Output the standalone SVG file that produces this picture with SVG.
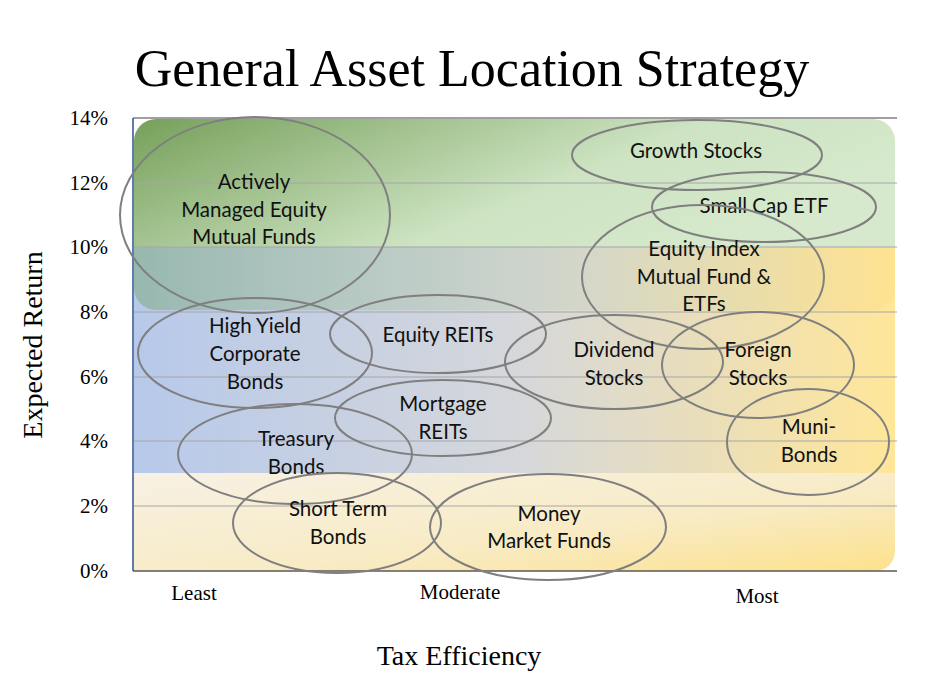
<svg xmlns="http://www.w3.org/2000/svg" width="939" height="692" viewBox="0 0 939 692">
<style>
.t{font-family:"Liberation Serif",serif;fill:#000}
.l{font-family:Lato,"Liberation Sans",sans-serif;font-size:20.5px;fill:#111;text-anchor:middle}
.e{fill:none;stroke:#7f7f7f;stroke-width:2}
.g{stroke:#a6a6a6;stroke-width:1}
</style>
<defs>
<linearGradient id="gb" x1="0" y1="0" x2="1" y2="0"><stop offset="0" stop-color="#b7c9ea"/><stop offset="0.5" stop-color="#d5d7db"/><stop offset="1" stop-color="#ffe699"/></linearGradient>
<linearGradient id="gy" x1="0" y1="0" x2="1" y2="1"><stop offset="0" stop-color="#f7f1e4"/><stop offset="0.6" stop-color="#f8ebc4"/><stop offset="1" stop-color="#fde18b"/></linearGradient>
<linearGradient id="gg" x1="0" y1="0" x2="1" y2="0.4"><stop offset="0" stop-color="#76a05a"/><stop offset="0.65" stop-color="#cde3c2"/><stop offset="1" stop-color="#d6e9cc"/></linearGradient>
<linearGradient id="gg2" x1="0" y1="0" x2="1" y2="0"><stop offset="0" stop-color="#8fb4a0" stop-opacity="0.8"/><stop offset="0.6" stop-color="#c9d3bf" stop-opacity="0.4"/><stop offset="1" stop-color="#ffe08a" stop-opacity="0.6"/></linearGradient>
</defs>
<rect width="939" height="692" fill="#fff"/>
<g id="bands">
<rect x="134" y="247" width="761" height="226" fill="url(#gb)"/>
<path d="M134 473H895V551A20 20 0 0 1 875 571H134Z" fill="url(#gy)"/>
<path d="M134 247H895V288A22 22 0 0 1 873 310H156A22 22 0 0 1 134 288Z" fill="url(#gg2)"/>
<path d="M156 119H873A22 22 0 0 1 895 141V247H134V141A22 22 0 0 1 156 119Z" fill="url(#gg)"/>
</g>
<g id="grid">
<line class="g" x1="134" y1="183" x2="897" y2="183"/>
<line class="g" x1="134" y1="247" x2="897" y2="247"/>
<line class="g" x1="134" y1="312" x2="897" y2="312"/>
<line class="g" x1="134" y1="377" x2="897" y2="377"/>
<line class="g" x1="134" y1="441" x2="897" y2="441"/>
<line class="g" x1="134" y1="506" x2="897" y2="506"/>
<line x1="133" y1="118" x2="897" y2="118" stroke="#7f7f7f" stroke-width="1.5"/>
<line x1="133" y1="571" x2="897" y2="571" stroke="#595959" stroke-width="1.5"/>
<line x1="133" y1="118" x2="133" y2="571" stroke="#2f4f8f" stroke-width="1.5"/>
</g>
<text class="t" x="472" y="86" font-size="52" text-anchor="middle">General Asset Location Strategy</text>
<g class="t" font-size="21" text-anchor="end">
<text x="108" y="125">14%</text><text x="108" y="190">12%</text><text x="108" y="254">10%</text><text x="108" y="319">8%</text><text x="108" y="384">6%</text><text x="108" y="448">4%</text><text x="108" y="513">2%</text><text x="108" y="578">0%</text>
</g>
<text class="t" font-size="21" x="194" y="600" text-anchor="middle">Least</text>
<text class="t" font-size="21" x="460" y="599" text-anchor="middle">Moderate</text>
<text class="t" font-size="21" x="757" y="603" text-anchor="middle">Most</text>
<text class="t" font-size="28" x="459" y="665" text-anchor="middle">Tax Efficiency</text>
<text class="t" font-size="28" transform="translate(42 345) rotate(-90)" text-anchor="middle">Expected Return</text>
<g id="nodes">
<g id="n-active"><ellipse class="e" cx="255" cy="215" rx="135" ry="98"/><text class="l" x="254" y="189">Actively</text><text class="l" x="254" y="217">Managed Equity</text><text class="l" x="254" y="244">Mutual Funds</text></g>
<g id="n-growth"><ellipse class="e" cx="697" cy="155" rx="125" ry="35"/><text class="l" x="696" y="158">Growth Stocks</text></g>
<g id="n-small"><ellipse class="e" cx="764" cy="207" rx="112" ry="35"/><text class="l" x="764" y="213">Small Cap ETF</text></g>
<g id="n-index"><ellipse class="e" cx="703" cy="277" rx="121" ry="72"/><text class="l" x="704" y="256">Equity Index</text><text class="l" x="704" y="284">Mutual Fund &amp;</text><text class="l" x="704" y="311">ETFs</text></g>
<g id="n-hy"><ellipse class="e" cx="255" cy="353" rx="117" ry="55"/><text class="l" x="255" y="333">High Yield</text><text class="l" x="255" y="361">Corporate</text><text class="l" x="255" y="389">Bonds</text></g>
<g id="n-ereit"><ellipse class="e" cx="438" cy="334" rx="108" ry="39"/><text class="l" x="438" y="342">Equity REITs</text></g>
<g id="n-div"><ellipse class="e" cx="614" cy="362" rx="109" ry="47"/><text class="l" x="614" y="357">Dividend</text><text class="l" x="614" y="385">Stocks</text></g>
<g id="n-foreign"><ellipse class="e" cx="758" cy="365" rx="96" ry="53"/><text class="l" x="758" y="357">Foreign</text><text class="l" x="758" y="385">Stocks</text></g>
<g id="n-muni"><ellipse class="e" cx="808" cy="442" rx="81" ry="53"/><text class="l" x="809" y="434">Muni-</text><text class="l" x="809" y="462">Bonds</text></g>
<g id="n-mreit"><ellipse class="e" cx="443" cy="418" rx="108" ry="38"/><text class="l" x="443" y="411">Mortgage</text><text class="l" x="443" y="439">REITs</text></g>
<g id="n-treas"><ellipse class="e" cx="295" cy="454" rx="117" ry="50"/><text class="l" x="296" y="446">Treasury</text><text class="l" x="296" y="474">Bonds</text></g>
<g id="n-short"><ellipse class="e" cx="337" cy="523" rx="104" ry="50"/><text class="l" x="338" y="516">Short Term</text><text class="l" x="338" y="544">Bonds</text></g>
<g id="n-money"><ellipse class="e" cx="548" cy="527" rx="118" ry="53"/><text class="l" x="549" y="521">Money</text><text class="l" x="549" y="548">Market Funds</text></g>
</g>
<g id="connectors"/>
</svg>
